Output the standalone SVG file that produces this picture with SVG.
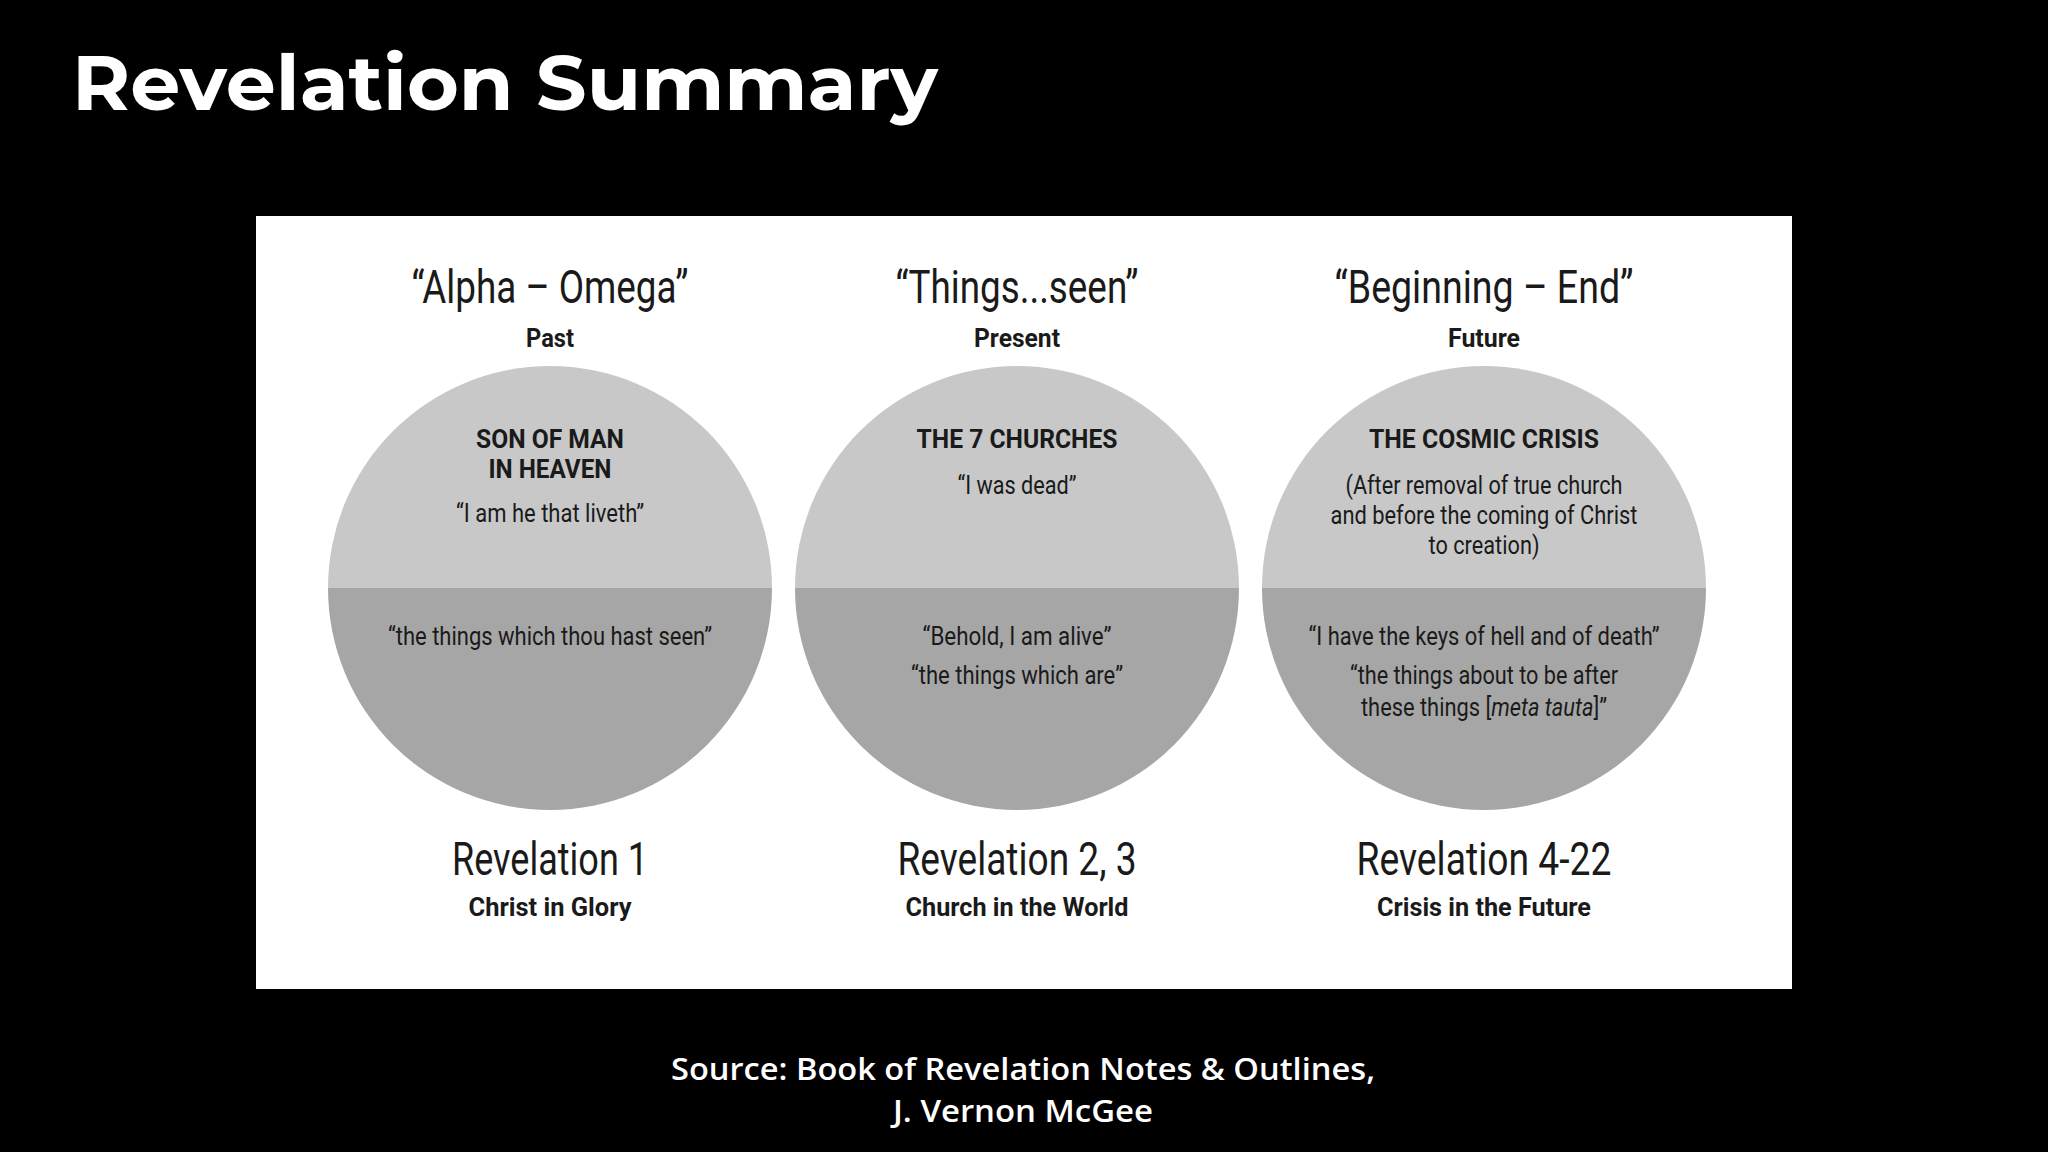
<svg xmlns="http://www.w3.org/2000/svg" width="2048" height="1152" viewBox="0 0 2048 1152">
<style>
.t{font-family:Roboto,"Liberation Sans",sans-serif;fill:#1a1a1a;text-anchor:middle}
.h{font-size:47px}
.b{font-size:26px;font-weight:bold}
.s{font-size:26px}
.top{fill:#c8c8c8}.bot{fill:#a6a6a6}
</style>
<defs>
<clipPath id="c1"><circle cx="550" cy="588" r="222"/></clipPath>
<clipPath id="c2"><circle cx="1017" cy="588" r="222"/></clipPath>
<clipPath id="c3"><circle cx="1484" cy="588" r="222"/></clipPath>
</defs>
<rect width="2048" height="1152" fill="#000"/>
<text x="72" y="110" font-family="Montserrat,'Open Sans',sans-serif" font-weight="bold" font-size="76" fill="#fff" textLength="866" lengthAdjust="spacingAndGlyphs">Revelation Summary</text>
<rect x="256" y="216" width="1536" height="773" fill="#fff"/>
<g id="past">
<g clip-path="url(#c1)"><rect class="top" x="328" y="366" width="444" height="222"/><rect class="bot" x="328" y="588" width="444" height="222"/></g>
<text class="t h" x="550" y="303" textLength="277" lengthAdjust="spacingAndGlyphs">“Alpha – Omega”</text>
<text class="t b" x="550" y="347" textLength="48" lengthAdjust="spacingAndGlyphs">Past</text>
<text class="t b" x="550" y="448" textLength="148" lengthAdjust="spacingAndGlyphs">SON OF MAN</text>
<text class="t b" x="550" y="478" textLength="123" lengthAdjust="spacingAndGlyphs">IN HEAVEN</text>
<text class="t s" x="550" y="522" textLength="188" lengthAdjust="spacingAndGlyphs">“I am he that liveth”</text>
<text class="t s" x="550" y="645" textLength="324" lengthAdjust="spacingAndGlyphs">“the things which thou hast seen”</text>
<text class="t h" x="550" y="875" textLength="196" lengthAdjust="spacingAndGlyphs">Revelation 1</text>
<text class="t b" x="550" y="916" textLength="163" lengthAdjust="spacingAndGlyphs">Christ in Glory</text>
</g>
<g id="present">
<g clip-path="url(#c2)"><rect class="top" x="795" y="366" width="444" height="222"/><rect class="bot" x="795" y="588" width="444" height="222"/></g>
<text class="t h" x="1017" y="303" textLength="243" lengthAdjust="spacingAndGlyphs">“Things...seen”</text>
<text class="t b" x="1017" y="347" textLength="86" lengthAdjust="spacingAndGlyphs">Present</text>
<text class="t b" x="1017" y="448" textLength="201" lengthAdjust="spacingAndGlyphs">THE 7 CHURCHES</text>
<text class="t s" x="1017" y="494" textLength="119" lengthAdjust="spacingAndGlyphs">“I was dead”</text>
<text class="t s" x="1017" y="645" textLength="189" lengthAdjust="spacingAndGlyphs">“Behold, I am alive”</text>
<text class="t s" x="1017" y="684" textLength="212" lengthAdjust="spacingAndGlyphs">“the things which are”</text>
<text class="t h" x="1017" y="875" textLength="239" lengthAdjust="spacingAndGlyphs">Revelation 2, 3</text>
<text class="t b" x="1017" y="916" textLength="223" lengthAdjust="spacingAndGlyphs">Church in the World</text>
</g>
<g id="future">
<g clip-path="url(#c3)"><rect class="top" x="1262" y="366" width="444" height="222"/><rect class="bot" x="1262" y="588" width="444" height="222"/></g>
<text class="t h" x="1484" y="303" textLength="299" lengthAdjust="spacingAndGlyphs">“Beginning – End”</text>
<text class="t b" x="1484" y="347" textLength="72" lengthAdjust="spacingAndGlyphs">Future</text>
<text class="t b" x="1484" y="448" textLength="230" lengthAdjust="spacingAndGlyphs">THE COSMIC CRISIS</text>
<text class="t s" x="1484" y="494" textLength="277" lengthAdjust="spacingAndGlyphs">(After removal of true church</text>
<text class="t s" x="1484" y="524" textLength="307" lengthAdjust="spacingAndGlyphs">and before the coming of Christ</text>
<text class="t s" x="1484" y="554" textLength="111" lengthAdjust="spacingAndGlyphs">to creation)</text>
<text class="t s" x="1484" y="645" textLength="351" lengthAdjust="spacingAndGlyphs">“I have the keys of hell and of death”</text>
<text class="t s" x="1484" y="684" textLength="268" lengthAdjust="spacingAndGlyphs">“the things about to be after</text>
<text class="t s" transform="translate(1484,716) scale(0.84,1)" x="0" y="0">these things [<tspan font-style="italic">meta tauta</tspan>]”</text>
<text class="t h" x="1484" y="875" textLength="255" lengthAdjust="spacingAndGlyphs">Revelation 4-22</text>
<text class="t b" x="1484" y="916" textLength="214" lengthAdjust="spacingAndGlyphs">Crisis in the Future</text>
</g>
<g font-family="'Open Sans','Noto Sans',sans-serif" font-weight="600" font-size="31" fill="#fff" text-anchor="middle">
<text x="1023" y="1080" textLength="704" lengthAdjust="spacingAndGlyphs">Source: Book of Revelation Notes &amp; Outlines,</text>
<text x="1023" y="1122" textLength="260" lengthAdjust="spacingAndGlyphs">J. Vernon McGee</text>
</g>
<g id="connectors"/>
</svg>
